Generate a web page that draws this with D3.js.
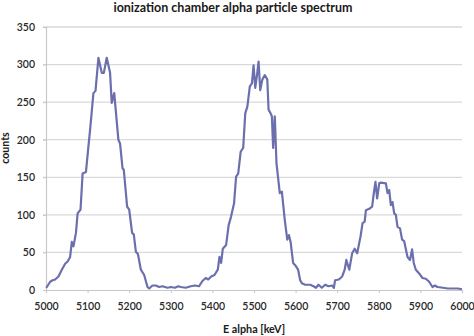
<!DOCTYPE html>
<html><head><meta charset="utf-8">
<script src="https://cdn.jsdelivr.net/npm/d3@7"></script>
<style>body{margin:0;background:#fff;}svg{display:block;}</style>
</head><body>
<svg id="c" width="474" height="336"></svg>
<script>
const energy = [5000,5002,5010,5016,5022,5030,5038,5046,5052,5058,5062,5066,5072,5076,5083,5088,5096,5102,5106,5114,5119,5126,5134,5139,5146,5154,5158,5164,5174,5178,5184,5187,5195,5200,5207,5211,5216,5221,5228,5236,5244,5248,5256,5264,5272,5280,5292,5300,5310,5318,5324,5336,5348,5358,5368,5376,5384,5390,5397,5405,5413,5417,5421,5425,5433,5439,5445,5452,5457,5462,5468,5474,5479,5484,5490,5495,5499,5503,5507,5511,5515,5520,5526,5532,5535,5540,5543,5546,5550,5554,5562,5567,5574,5580,5584,5588,5594,5599,5606,5611,5615,5623,5635,5643,5649,5655,5663,5671,5679,5688,5692,5695,5704,5712,5718,5722,5729,5736,5742,5748,5756,5761,5766,5769,5777,5784,5788,5792,5796,5801,5805,5817,5821,5825,5829,5833,5837,5841,5845,5851,5856,5861,5869,5875,5880,5884,5889,5897,5905,5913,5921,5929,5935,5941,5954,5966,5978,5990,6000];
const counts = [3,4,11,13,14,18,27,35,38,44,64,58,76,102,107,155,157,191,213,262,265,309,289,289,309,289,249,262,200,195,162,160,111,107,76,74,51,48,27,20,4,2,6,6,4,5,3,4,3,5,4,3,5,6,5,12,16,14,18,20,27,44,36,55,60,86,98,115,151,155,184,189,235,244,271,275,299,269,285,304,266,280,286,280,240,235,231,189,231,169,129,131,93,67,73,64,36,33,27,13,9,7,7,5,3,7,3,7,5,6,3,13,14,18,27,40,27,49,55,49,71,89,91,106,108,111,129,144,122,142,143,142,129,133,113,117,102,100,84,82,67,65,44,40,54,36,27,22,16,15,11,4,6,4,3,2,2,2,1];
const xTicks = [5000,5100,5200,5300,5400,5500,5600,5700,5800,5900,6000];
const yTicks = [0,50,100,150,200,250,300,350];
const title = "ionization chamber alpha particle spectrum";
const xTitle = "E alpha [keV]";
const yTitle = "counts";

const svg = d3.select("#c");
const font = "Lato, 'Open Sans', sans-serif";
const x = d3.scaleLinear().domain([5000,6000]).range([46,462]);
const y = d3.scaleLinear().domain([0,350]).range([290,27]);

// gridlines
svg.append("g").selectAll("line").data(yTicks.filter(d=>d>0)).join("line")
  .attr("x1",43).attr("x2",462).attr("y1",d=>y(d)).attr("y2",d=>y(d))
  .attr("stroke","#d9d9d9").attr("stroke-width",1.3);

// y axis
const ya = svg.append("g").attr("transform","translate(46,0)")
  .call(d3.axisLeft(y).tickValues(yTicks).tickSize(3).tickPadding(8));
ya.select(".domain").attr("stroke","#c8c8c8").attr("stroke-width",1.2);
ya.selectAll(".tick line").attr("stroke","#c8c8c8");
ya.selectAll("text").attr("font-family",font).attr("font-size","10.5px").attr("fill","#2a2a2a").attr("font-weight","600");

// x axis
const xa = svg.append("g").attr("transform","translate(0,290)")
  .call(d3.axisBottom(x).tickValues(xTicks).tickFormat(d3.format("d")).tickSize(3).tickPadding(10));
xa.select(".domain").attr("stroke","#c8c8c8").attr("stroke-width",1.2);
xa.selectAll(".tick line").attr("stroke","#c8c8c8");
xa.selectAll("text").attr("font-family",font).attr("font-size","10.5px").attr("fill","#2a2a2a").attr("font-weight","600");

// line
const data = energy.map((e,i)=>({e, c:counts[i]}));
svg.append("path").datum(data)
  .attr("d", d3.line().x(d=>x(d.e)).y(d=>y(d.c)))
  .attr("fill","none").attr("stroke","#6b6fae").attr("stroke-width",2.2).attr("stroke-linejoin","round");

// titles
svg.append("text").attr("x",233).attr("y",12).attr("text-anchor","middle")
  .attr("font-family",font).attr("font-size","12.5px").attr("font-weight","bold").attr("fill","#1a1a1a").text(title);
svg.append("text").attr("x",254).attr("y",333).attr("text-anchor","middle")
  .attr("font-family",font).attr("font-size","10.8px").attr("font-weight","bold").attr("fill","#1a1a1a").text(xTitle);
svg.append("text").attr("transform","translate(9,148) rotate(-90)").attr("text-anchor","middle")
  .attr("font-family",font).attr("font-size","10.5px").attr("font-weight","bold").attr("fill","#1a1a1a").text(yTitle);
</script>
</body></html>
